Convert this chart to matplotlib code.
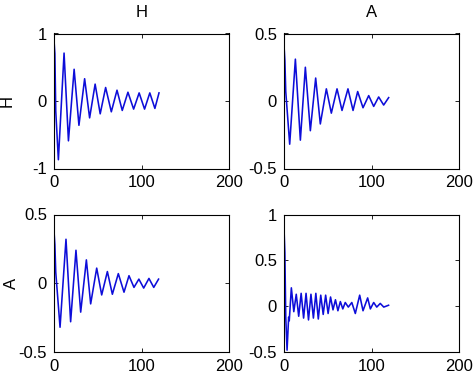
import matplotlib
matplotlib.use("Agg")
import matplotlib.pyplot as plt

# ---- data ----
col_titles = ["H", "A"]
row_labels = ["H", "A"]
x_ticks = [0, 100, 200]
x_tick_labels = ["0", "100", "200"]

hh_lag = [0, 1, 2, 5, 11.5, 16.5, 23, 28.5, 35, 40.7, 47, 52.8, 59, 65.5, 72, 78,
          84.5, 91, 97.3, 103.5, 109.5, 115.3, 120]
hh_val = [0.90, 0.70, -0.15, -0.87, 0.71, -0.59, 0.47, -0.36, 0.33, -0.25, 0.25, -0.19,
          0.20, -0.16, 0.16, -0.14, 0.13, -0.12, 0.12, -0.12, 0.12, -0.11, 0.12]

ha_lag = [0, 1, 2, 6.5, 13, 18.7, 24.4, 30.1, 36.2, 41.5, 48.4, 54.1, 60.6, 66.3, 73.1,
          78.9, 84.2, 90.3, 96.8, 102.5, 108.2, 113.9, 119.6]
ha_val = [0.41, 0.30, 0.07, -0.32, 0.31, -0.29, 0.25, -0.22, 0.17, -0.17, 0.09, -0.09,
          0.09, -0.07, 0.09, -0.07, 0.07, -0.05, 0.04, -0.04, 0.03, -0.03, 0.025]

ah_lag = [0, 1, 2, 6.9, 13.7, 19, 25.1, 30.5, 37, 41.9, 48.8, 54.5, 61, 66.7, 73.5, 80,
          85.7, 91.4, 97, 102.5, 108.5, 114, 119.5]
ah_val = [0.38, 0.28, 0.08, -0.32, 0.32, -0.28, 0.24, -0.21, 0.17, -0.15, 0.11, -0.085,
          0.085, -0.08, 0.07, -0.065, 0.055, -0.03, 0.03, -0.035, 0.035, -0.03, 0.03]

aa_lag = [0, 1, 2, 3.5, 5.3, 6, 8.4, 11.2, 14, 16.8, 19.6, 22.4, 25.2, 28, 30.8, 33.6,
          36.4, 39.2, 42, 44.8, 47.6, 50.4, 53.2, 56, 58.8, 61.6, 64.4, 67.2, 70, 73.5,
          77.5, 81.5, 86.5, 90.3, 95.6, 98.7, 102.5, 106, 110, 114, 119.5]
aa_val = [0.85, 0.58, -0.12, -0.48, -0.12, -0.16, 0.20, -0.06, 0.13, -0.11, 0.14, -0.13,
          0.14, -0.15, 0.13, -0.13, 0.14, -0.14, 0.12, -0.09, 0.12, -0.08, 0.10, -0.04,
          0.07, -0.05, 0.05, -0.03, 0.04, -0.01, 0.04, -0.08, 0.12, -0.05, 0.09, -0.03,
          0.04, -0.01, 0.03, -0.01, 0.01]

y_ticks_hh = [-1, 0, 1]
y_labels_hh = ["-1", "0", "1"]
y_ticks_half = [-0.5, 0, 0.5]
y_labels_half = ["-0.5", "0", "0.5"]
y_ticks_aa = [-0.5, 0, 0.5, 1]
y_labels_aa = ["-0.5", "0", "0.5", "1"]

plt.rcParams["font.family"] = ["Liberation Sans", "DejaVu Sans"]
plt.rcParams["font.size"] = 12

W, H = 474, 376
fig = plt.figure(figsize=(W / 100, H / 100), dpi=100)

def px_axes(left, top, right, bottom):
    return fig.add_axes([left / W, 1 - bottom / H, (right - left) / W, (bottom - top) / H])

panels = [
    (px_axes(54, 33.5, 229, 168.5), hh_lag, hh_val, (-1, 1), y_ticks_hh, y_labels_hh),
    (px_axes(284, 33.5, 459, 168.5), ha_lag, ha_val, (-0.5, 0.5), y_ticks_half, y_labels_half),
    (px_axes(54, 214.5, 229, 352), ah_lag, ah_val, (-0.5, 0.5), y_ticks_half, y_labels_half),
    (px_axes(284, 214.5, 459, 352), aa_lag, aa_val, (-0.5, 1), y_ticks_aa, y_labels_aa),
]

for ax, lx, ly, ylim, yt, ytl in panels:
    ax.plot(lx, ly, color=(0.05, 0.05, 0.85), lw=1.15)
    ax.set_xlim(0, 200)
    ax.set_ylim(*ylim)
    ax.set_xticks(x_ticks)
    ax.set_xticklabels(x_tick_labels)
    ax.set_yticks(yt)
    ax.set_yticklabels(ytl)
    ax.tick_params(direction="in", length=3, width=0.6, top=True, right=True,
                   labelsize=12, pad=5)
    for s in ax.spines.values():
        s.set_linewidth(0.8)

panels[0][0].set_title(col_titles[0], fontsize=12, pad=12)
panels[1][0].set_title(col_titles[1], fontsize=12, pad=12)
panels[0][0].text((7 - 54) / 175, 0.5, row_labels[0], rotation=90, ha="center", va="center",
                  transform=panels[0][0].transAxes, fontsize=12)
panels[2][0].text((11 - 54) / 175, 0.5, row_labels[1], rotation=90, ha="center", va="center",
                  transform=panels[2][0].transAxes, fontsize=12)

fig.savefig("out.png", dpi=100)
